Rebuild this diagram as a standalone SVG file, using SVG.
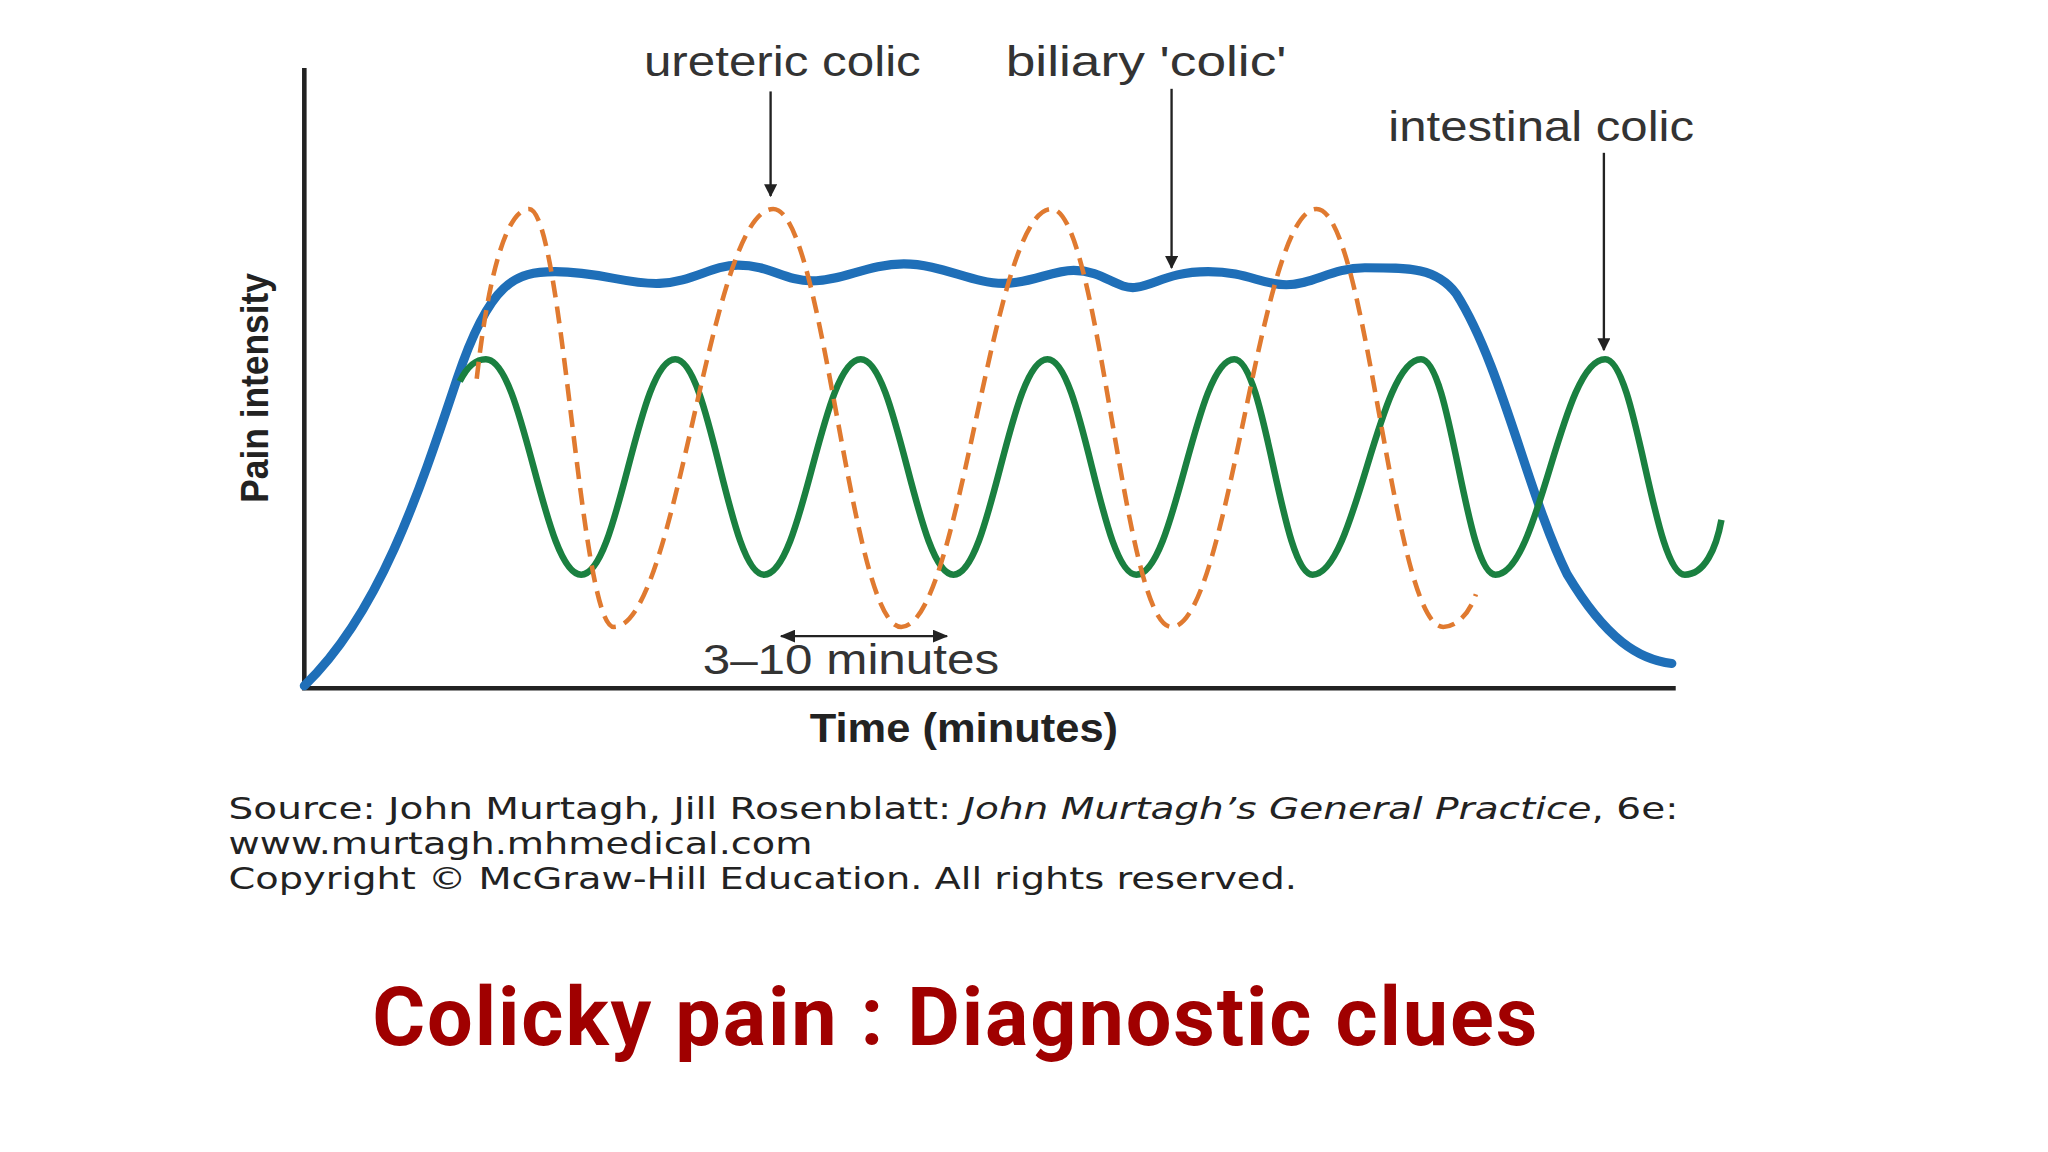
<svg xmlns="http://www.w3.org/2000/svg" width="2048" height="1152" viewBox="0 0 2048 1152">
<defs>
<style>
.lab{font-family:"Liberation Sans",Arial,sans-serif;font-size:33px;fill:#333}
.src{font-family:"DejaVu Sans",sans-serif;font-size:23px;fill:#222}
.ax{stroke:#222;stroke-width:3.5;fill:none}
.arr{stroke:#222;stroke-width:1.8;fill:none;marker-end:url(#ah)}
</style>
<marker id="ah" markerWidth="10" markerHeight="10" refX="9" refY="5" orient="auto" markerUnits="userSpaceOnUse"><path d="M0,0 L10,5 L0,10 z" fill="#222"/></marker>
<marker id="ahs" markerWidth="12" markerHeight="10" refX="11" refY="5" orient="auto-start-reverse" markerUnits="userSpaceOnUse"><path d="M0,0 L12,5 L0,10 z" fill="#222"/></marker>
</defs>
<rect width="2048" height="1152" fill="#fff"/>
<g transform="scale(1.3061)">
<g id="axes">
<path class="ax" d="M233,52 V527 H1283"/>
<text class="lab" font-weight="bold" transform="translate(205,297) rotate(-90)" text-anchor="middle" textLength="176" lengthAdjust="spacingAndGlyphs" style="font-size:30px;fill:#222">Pain intensity</text>
<text class="lab" x="620" y="568" font-weight="bold" textLength="236" lengthAdjust="spacingAndGlyphs" style="fill:#222;font-size:31px">Time (minutes)</text>
</g>
<g id="curves">
<path id="biliary" fill="none" stroke="#1f6fb8" stroke-width="7" stroke-linecap="round" d="M233,525 C290,470 320,380 350,290 C375,215 395,208 425,208 C460,208 480,218 505,217 C530,216 545,203 565,203 C590,203 600,215 622,215 C645,215 665,202 692,202 C720,202 745,217 768,217 C790,217 805,207 822,207 C845,207 855,222 870,220 C885,218 895,208 925,208 C955,208 965,218 985,218 C1005,218 1020,205 1045,205 C1080,205 1100,205 1115,225 C1150,280 1170,380 1200,440 C1230,490 1255,505 1280,508"/>
<path id="intestinal" fill="none" stroke="#1a8040" stroke-width="5" d="M352,292 C358,280 364,275 372,275 C401,275 416,440 445,440 C474,440 488,275 517,275 C544,275 558,440 585,440 C615,440 629,275 659,275 C687,275 702,440 730,440 C759,440 773,275 802,275 C829,275 843,440 870,440 C900,440 915,275 945,275 C969,275 981,440 1005,440 C1038,440 1055,275 1088,275 C1111,275 1122,440 1145,440 C1179,440 1195,275 1229,275 C1253,275 1266,440 1290,440 C1305,440 1314,420 1318,398"/>
<path id="ureteric" fill="none" stroke="#e07a30" stroke-width="3.5" stroke-dasharray="13 7" d="M365,290 C375,200 390,160 405,160 C431,160 444,480 470,480 C519,480 543,160 592,160 C631,160 651,480 690,480 C736,480 759,160 805,160 C842,160 860,480 897,480 C941,480 964,160 1008,160 C1047,160 1066,480 1105,480 C1115,480 1125,470 1130,455"/>
</g>
<g id="connectors">
<path class="arr" d="M590,70 V150"/>
<path class="arr" d="M897,68 V205"/>
<path class="arr" d="M1228,117 V268"/>
<path d="M598,487 H725" stroke="#222" stroke-width="1.8" marker-start="url(#ahs)" marker-end="url(#ahs)"/>
</g>
<g id="labels">
<text class="lab" x="493" y="58" textLength="212" lengthAdjust="spacingAndGlyphs">ureteric colic</text>
<text class="lab" x="770" y="58" textLength="215" lengthAdjust="spacingAndGlyphs">biliary 'colic'</text>
<text class="lab" x="1063" y="108" textLength="234" lengthAdjust="spacingAndGlyphs">intestinal colic</text>
<text class="lab" x="538" y="516" textLength="227" lengthAdjust="spacingAndGlyphs">3–10 minutes</text>
</g>
<g id="source">
<text class="src" x="175" y="627" textLength="1110" lengthAdjust="spacingAndGlyphs">Source: John Murtagh, Jill Rosenblatt: <tspan font-style="italic">John Murtagh’s General Practice</tspan>, 6e:</text>
<text class="src" x="175" y="654" textLength="447" lengthAdjust="spacingAndGlyphs">www.murtagh.mhmedical.com</text>
<text class="src" x="175" y="681" textLength="818" lengthAdjust="spacingAndGlyphs">Copyright © McGraw-Hill Education. All rights reserved.</text>
</g>
<text x="285" y="800" font-family="Roboto,sans-serif" font-weight="bold" font-size="62" fill="#a00000" textLength="892">Colicky pain : Diagnostic clues</text>
</g>
</svg>
